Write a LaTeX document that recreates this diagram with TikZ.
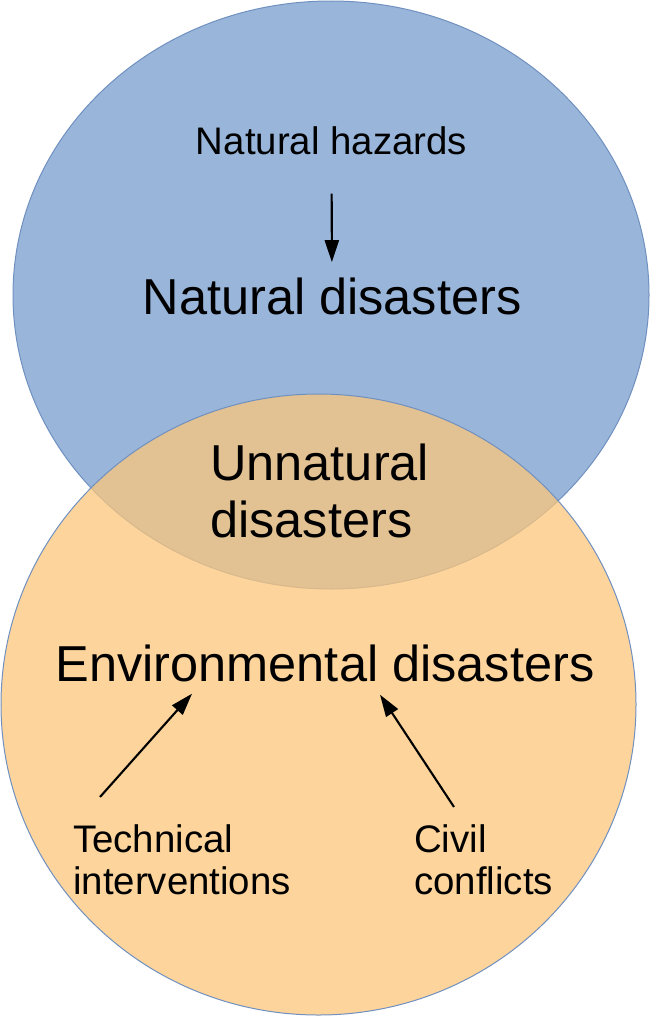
\documentclass[tikz,border=0pt]{standalone}
\usepackage{fontspec}
\setmainfont{Liberation Sans}
\usetikzlibrary{positioning,calc,arrows.meta}
\definecolor{hazblue}{RGB}{153,182,218}
\definecolor{envorange}{RGB}{251,198,123}
\definecolor{rimblue}{RGB}{112,144,192}

\begin{document}
\begin{tikzpicture}
        [x=1pt,y=-1pt,
        every node/.style={inner sep=0pt,text=black},
        big/.style={font=\fontsize{50.5}{57}\selectfont},
        little/.style={font=\fontsize{38.4}{42}\selectfont},
        arr/.style={-{Triangle[length=22pt,width=14pt]},line width=2.1pt,draw=black}]
        \useasboundingbox (0,0) rectangle (650,1017);
        \filldraw[fill=hazblue,draw=rimblue,line width=1pt] (331,295) ellipse [x radius=318,y radius=294];
        \filldraw[fill=envorange,fill opacity=0.75,draw=rimblue,line width=1pt] (318.5,704.5) ellipse [x radius=317.5,y radius=310.5];
        \node[little,anchor=base] (hazards) at (331.5,154) {Natural hazards};
        \node[big,anchor=base] (natdis) at (332,314) {Natural disasters};
        \node[big,align=left,anchor=base west] (unnat) at (210,537) {Unnatural\\disasters};
        \node[big,anchor=base] (envdis) at (325,681) {Environmental disasters};
        \node[little,align=left,anchor=base west] (tech) at (73,894) {Technical\\interventions};
        \node[little,align=left,anchor=base west] (civil) at (414,894) {Civil\\conflicts};
        \draw[arr,shorten <=39pt,shorten >=15pt] (hazards) -- (natdis);
        \draw[arr] ($(tech.north west)+(27,-27)$) -- ($(envdis.south)+(-133,12)$);
        \draw[arr] ($(civil.north west)+(40,-17)$) -- ($(envdis.south)+(55,13)$);
\end{tikzpicture}
\end{document}
